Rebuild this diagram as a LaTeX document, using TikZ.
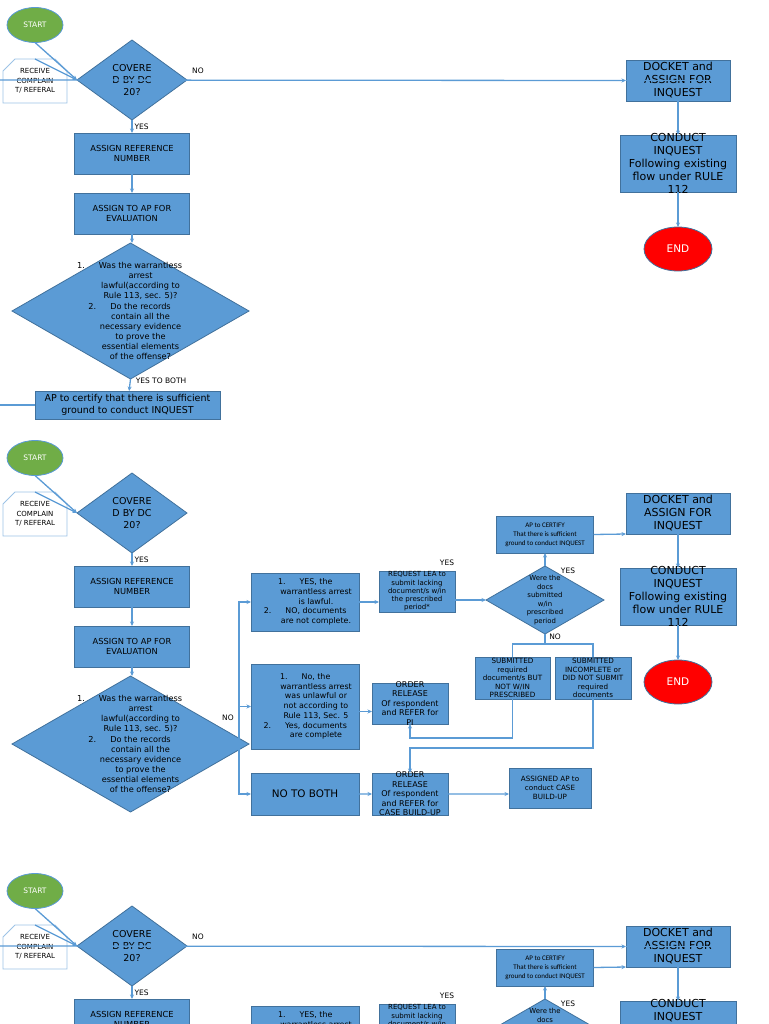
\documentclass[tikz,border=0pt]{standalone}
\usepackage{fontspec}
\setmainfont{DejaVu Sans}
\newfontfamily\carlito{Carlito}
\usetikzlibrary{shapes,shapes.geometric,shapes.misc,arrows.meta,positioning}

\definecolor{BoxBlue}{HTML}{5B9BD5}
\definecolor{BoxEdge}{HTML}{41719C}
\definecolor{StartGreen}{HTML}{70AD47}
\definecolor{PaleBlue}{HTML}{9DC3E6}

\newcommand{\fsz}[2]{\fontsize{#1}{#2}\selectfont}
\newcommand{\ListNum}[2]{\llap{#1\hspace{14pt}}#2}

\tikzstyle{Block} = [draw=BoxEdge, fill=BoxBlue, rectangle, line width=0.8pt, inner sep=-60pt, outer sep=0pt, align=center]
\tikzstyle{Decision} = [draw=BoxEdge, fill=BoxBlue, diamond, line width=0.8pt, inner sep=-60pt, outer sep=0pt, align=center]
\tikzstyle{Terminal} = [draw, ellipse, line width=0.8pt, inner sep=0pt, outer sep=0pt, text=white]
\tikzstyle{Paper} = [draw=PaleBlue, fill=white, chamfered rectangle, chamfered rectangle corners={north west,north east}, chamfered rectangle xsep=6pt, chamfered rectangle ysep=6pt, line width=0.8pt, inner sep=0pt, outer sep=0pt, align=center]
\tikzstyle{ListText} = [inner sep=0pt, align=center, xshift=11pt]
\tikzstyle{Note} = [inner sep=0pt, font=\fsz{7.5}{9}]
\tikzstyle{Flow} = [draw=BoxBlue, line width=1.3pt, -{Stealth[length=4.5pt,width=4pt]}]
\tikzstyle{Link} = [draw=BoxBlue, line width=1.3pt]

\newcommand{\IntakeColumn}[1]{%
  \node[Terminal, draw=BoxBlue, fill=StartGreen, minimum width=56, minimum height=35, font=\fsz{7.5}{9}] (#1start) at (35,25) {START};
  \node[Paper, minimum width=64, minimum height=44, font=\fsz{7}{9.5}] (#1recv) at (35,81) {RECEIVE\\COMPLAIN\\T/ REFERAL};
  \node[Decision, minimum width=110, minimum height=80, font=\fsz{9.5}{12}] (#1cov) at (132,80) {COVERE\\D BY DC\\20?};
  \node[Block, minimum width=115, minimum height=41, font=\fsz{8.3}{10.7}] (#1ref) [below=13pt of #1cov] {ASSIGN REFERENCE\\NUMBER};
  \node[Block, minimum width=115, minimum height=41, font=\fsz{8.3}{10.7}] (#1eval) [below=19pt of #1ref] {ASSIGN TO AP FOR\\EVALUATION};
  \node[Decision, minimum width=237, minimum height=136,
        label={[ListText, xshift=-1pt, font=\fsz{8.2}{10.1}]center:{\ListNum{1.}{Was the warrantless}\\arrest\\lawful(according to\\Rule 113, sec. 5)?\\\ListNum{2.}{Do the records}\\contain all the\\necessary evidence\\to prove the\\essential elements\\of the offense?}}]
        (#1q) [below=9pt of #1eval, xshift=-1.5pt] {};
  \node[Block, minimum width=104, minimum height=41, font=\fsz{11}{13}] (#1docket) at (678,80.5) {DOCKET and\\ASSIGN FOR\\INQUEST};
  \node[Block, minimum width=116, minimum height=57, font=\fsz{11}{13}] (#1conduct) [below=34pt of #1docket] {CONDUCT\\INQUEST\\Following existing\\flow under RULE\\112};
  \node[Terminal, draw=BoxEdge, fill=red, minimum width=68, minimum height=44, font=\fsz{10.5}{12}] (#1end) [below=35pt of #1conduct] {END};
  \draw[Flow] (#1start.south) -- (#1cov.west);
  \draw[Flow] (#1recv.north) -- (#1cov.west);
  \draw[Flow] (#1cov) -- node[Note, right=2pt] (#1yes) {YES} (#1ref);
  \draw[Flow] (#1ref) -- (#1eval);
  \draw[Flow] (#1eval) -- (#1eval |- #1q.north);
  \draw[Flow] (#1docket) -- (#1conduct);
  \draw[Flow] (#1conduct) -- (#1end);
}

\newcommand{\DirectRoute}[1]{%
  \coordinate (#1edge) at (0,80);
  \draw[Flow] (#1edge) -- (#1docket.west);
  \draw[Link] (#1docket.west) -- (#1docket.east);
  \node[Note] (#1nocov) at (198,71) {NO};
}

\newcommand{\ReviewBranches}[1]{%
  \node[Note] (#1noq) at (228,285) {NO};
  \node[Block, minimum width=108, minimum height=58,
        label={[ListText, font=\fsz{7.9}{9.7}]center:{\ListNum{1.}{YES, the}\\warrantless arrest\\is lawful.\\\ListNum{2.}{NO, documents}\\are not complete.}}]
        (#1lawful) at (305,169) {};
  \node[Block, minimum width=108, minimum height=85,
        label={[ListText, font=\fsz{7.9}{9.7}]center:{\ListNum{1.}{No, the}\\warrantless arrest\\was unlawful or\\not according to\\Rule 113, Sec. 5\\\ListNum{2.}{Yes, documents}\\are complete}}]
        (#1unlawful) [below=33pt of #1lawful] {};
  \node[Block, minimum width=108, minimum height=42, font=\fsz{10.4}{12}] (#1neither) [below=24pt of #1unlawful] {NO TO BOTH};
  \node[Block, minimum width=76, minimum height=41, font=\fsz{7}{8.3}] (#1request) at (417,158.5) {REQUEST LEA to\\submit lacking\\document/s w/in\\the prescribed\\period*};
  \node[Note] (#1yesreq) at (447,130) {YES};
  \node[Decision, minimum width=118, minimum height=68, font=\fsz{6.9}{8.6}] (#1docs) at (545,167) {Were the\\docs\\submitted\\w/in\\prescribed\\period};
  \node[Note] (#1yesdocs) at (568,138) {YES};
  \node[Note] (#1nodocs) at (555,204) {NO};
  \node[Block, minimum width=97, minimum height=37, font=\carlito\fsz{7}{9}] (#1certify) [above=13pt of #1docs] {AP to CERTIFY\\That there is sufficient\\ground to conduct INQUEST};
  \node[Block, minimum width=75, minimum height=42, font=\fsz{7.2}{8.5}] (#1late) at (512.5,245) {SUBMITTED\\required\\document/s BUT\\NOT W/IN\\PRESCRIBED};
  \node[Block, minimum width=76, minimum height=42, font=\fsz{7.2}{8.5}] (#1lacking) [right=5pt of #1late] {SUBMITTED\\INCOMPLETE or\\DID NOT SUBMIT\\required\\documents};
  \node[Block, minimum width=76, minimum height=41, font=\fsz{8}{9.5}] (#1releasepi) at (410,270.5) {ORDER\\RELEASE\\Of respondent\\and REFER for\\PI};
  \node[Block, minimum width=76, minimum height=42, font=\fsz{8}{9.5}] (#1releasecb) at (410,361) {ORDER\\RELEASE\\Of respondent\\and REFER for\\CASE BUILD-UP};
  \node[Block, minimum width=82, minimum height=40, font=\fsz{7.2}{9}] (#1buildup) at (550,355) {ASSIGNED AP to\\conduct CASE\\BUILD-UP};
  \coordinate (#1split) at ([xshift=-10pt]#1q.east);
  \draw[Flow] (#1split) |- (#1lawful);
  \draw[Flow] (#1split) |- (#1unlawful);
  \draw[Flow] (#1split) |- (#1neither);
  \draw[Flow] (#1lawful) -- (#1lawful -| #1request.west);
  \draw[Flow] (#1request.east |- #1docs.west) -- (#1docs.west);
  \draw[Flow] (#1docs.north) -- (#1certify.south);
  \draw[Flow] (#1certify.east) -- (#1docket.south west);
  \draw[Link] (#1docs.south) -- ++(0,10) coordinate (#1fork);
  \draw[Link] (#1fork) -| (#1late);
  \draw[Link] (#1fork) -| (#1lacking);
  \draw[Flow] (#1late.south) -- ++(0,39) -| (#1releasepi.south);
  \draw[Flow] (#1lacking.south) -- ++(0,49) -| (#1releasecb.north);
  \draw[Flow] ([yshift=-5pt]#1unlawful.east) -- ([yshift=-5pt]#1unlawful.east -| #1releasepi.west);
  \draw[Flow] (#1neither) -- (#1releasecb);
  \draw[Flow] (#1releasecb) -- (#1releasecb -| #1buildup.west);
}

\begin{document}
\begin{tikzpicture}[x=1pt, y=-1pt]
  \useasboundingbox (0,0) rectangle (768,1024);
  \clip (0,0) rectangle (768,1024);

  \IntakeColumn{a}
  \DirectRoute{a}
  \node[Note] (ayesboth) at (161,381) {YES TO BOTH};
  \node[Block, minimum width=185, minimum height=28, font=\fsz{9.5}{11.5}] (acertify) at (127.5,405) {AP to certify that there is sufficient\\ground to conduct INQUEST};
  \coordinate (aleft) at (0,405);
  \draw[Flow] (aq.south) -- (acertify);
  \draw[Link] (acertify) -- (aleft);

  \begin{scope}[yshift=-433pt]
    \IntakeColumn{b}
    \ReviewBranches{b}
  \end{scope}

  \begin{scope}[yshift=-866pt]
    \IntakeColumn{c}
    \DirectRoute{c}
    \ReviewBranches{c}
  \end{scope}
\end{tikzpicture}
\end{document}
